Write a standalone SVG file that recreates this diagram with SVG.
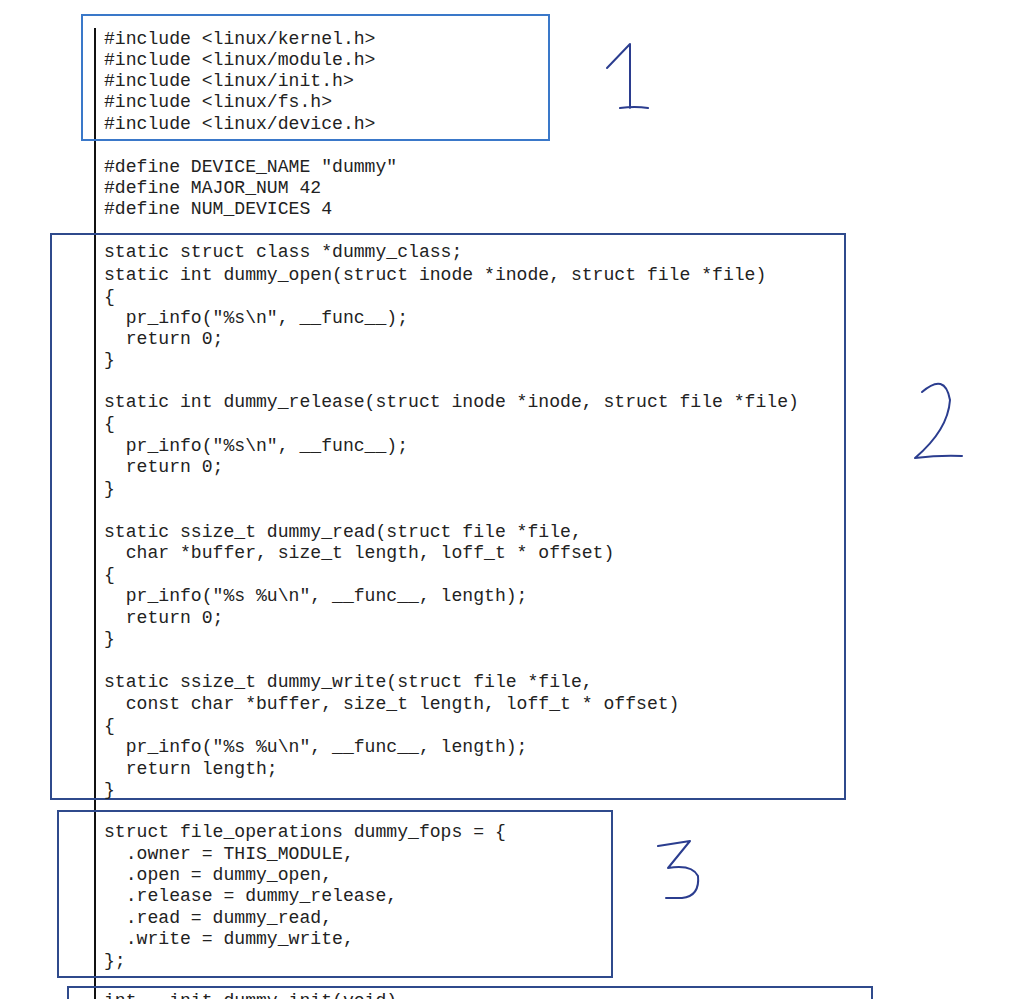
<svg xmlns="http://www.w3.org/2000/svg" width="1024" height="999" viewBox="0 0 1024 999">
<style>
text{font-family:"Liberation Mono",monospace;font-size:18.1px;fill:#222;white-space:pre}
.b{fill:none;stroke-width:2}
.h{fill:none;stroke:#2b3d8f;stroke-width:2;stroke-linecap:round;stroke-linejoin:round}
</style>
<rect width="1024" height="999" fill="#fff"/>
<g id="connectors"><line x1="95" y1="28" x2="95" y2="999" stroke="#111" stroke-width="2"/></g>
<g id="box1"><rect class="b" x="82" y="15" width="467" height="125" stroke="#3a78c9"/>
<text x="104" y="44">#include &lt;linux/kernel.h&gt;</text>
<text x="104" y="65">#include &lt;linux/module.h&gt;</text>
<text x="104" y="86">#include &lt;linux/init.h&gt;</text>
<text x="104" y="107">#include &lt;linux/fs.h&gt;</text>
<text x="104" y="129">#include &lt;linux/device.h&gt;</text>
<path class="h" d="M607 68 L630 44 L630 108 M620 108 Q635 106 648 108"/></g>
<g id="defines">
<text x="104" y="172">#define DEVICE_NAME "dummy"</text>
<text x="104" y="193">#define MAJOR_NUM 42</text>
<text x="104" y="214">#define NUM_DEVICES 4</text></g>
<g id="box2"><rect class="b" x="51" y="234" width="794" height="565" stroke="#2f4a8c"/>
<text x="104" y="257">static struct class *dummy_class;</text>
<text x="104" y="280">static int dummy_open(struct inode *inode, struct file *file)</text>
<text x="104" y="302">{</text>
<text x="104" y="323">  pr_info("%s\n", __func__);</text>
<text x="104" y="344">  return 0;</text>
<text x="104" y="365">}</text>
<text x="104" y="407">static int dummy_release(struct inode *inode, struct file *file)</text>
<text x="104" y="429">{</text>
<text x="104" y="451">  pr_info("%s\n", __func__);</text>
<text x="104" y="472">  return 0;</text>
<text x="104" y="494">}</text>
<text x="104" y="537">static ssize_t dummy_read(struct file *file,</text>
<text x="104" y="558">  char *buffer, size_t length, loff_t * offset)</text>
<text x="104" y="580">{</text>
<text x="104" y="601">  pr_info("%s %u\n", __func__, length);</text>
<text x="104" y="623">  return 0;</text>
<text x="104" y="644">}</text>
<text x="104" y="687">static ssize_t dummy_write(struct file *file,</text>
<text x="104" y="709">  const char *buffer, size_t length, loff_t * offset)</text>
<text x="104" y="731">{</text>
<text x="104" y="752">  pr_info("%s %u\n", __func__, length);</text>
<text x="104" y="774">  return length;</text>
<text x="104" y="795">}</text>
<path class="h" d="M922 392 Q945 372 950 400 Q948 430 915 458 Q940 455 962 456"/></g>
<g id="box3"><rect class="b" x="58" y="811" width="554" height="166" stroke="#2f4a8c"/>
<text x="104" y="837">struct file_operations dummy_fops = {</text>
<text x="104" y="859">  .owner = THIS_MODULE,</text>
<text x="104" y="880">  .open = dummy_open,</text>
<text x="104" y="901">  .release = dummy_release,</text>
<text x="104" y="923">  .read = dummy_read,</text>
<text x="104" y="944">  .write = dummy_write,</text>
<text x="104" y="966">};</text>
<path class="h" d="M658 846 L690 841 L668 868 Q692 864 698 876 Q700 896 682 898 L666 898"/></g>
<g id="box4"><rect class="b" x="68" y="987" width="804" height="30" stroke="#2f4a8c"/>
<text x="104" y="1006">int __init dummy_init(void)</text></g>
</svg>
